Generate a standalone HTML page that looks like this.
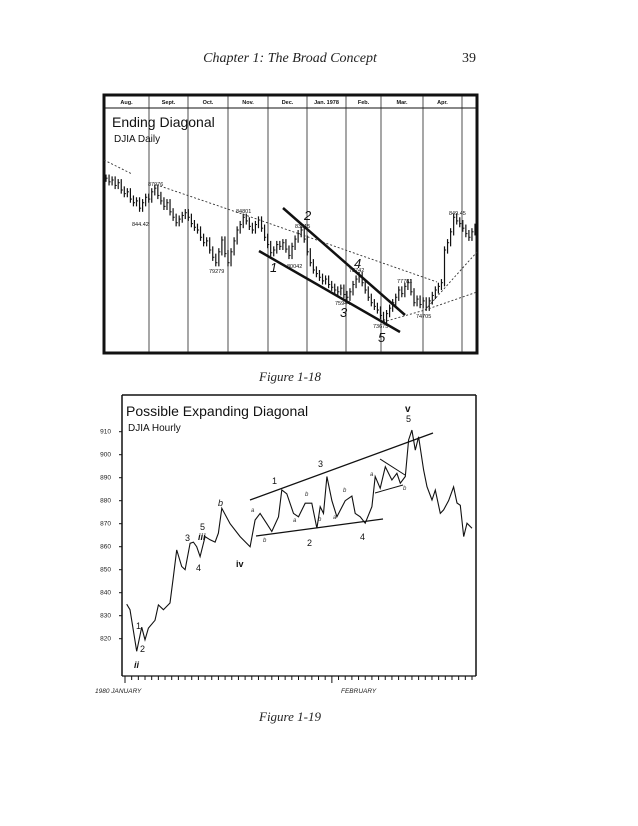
<!DOCTYPE html>
<html><head><meta charset="utf-8">
<style>
html,body{margin:0;padding:0;background:#fff;}
body{width:638px;height:826px;overflow:hidden;position:relative;font-family:"Liberation Serif",serif;}
svg{position:absolute;left:0;top:0;}
</style></head>
<body>
<svg width="638" height="826" viewBox="0 0 638 826">
<text x="290" y="62" font-family="Liberation Serif" font-style="italic" font-size="14" text-anchor="middle" fill="#222">Chapter 1: The Broad Concept</text>
<text x="476" y="62" font-family="Liberation Serif" font-size="14" text-anchor="end" fill="#222">39</text>
<text x="290" y="381" font-family="Liberation Serif" font-style="italic" font-size="13" text-anchor="middle" fill="#222">Figure 1-18</text>
<text x="290" y="721" font-family="Liberation Serif" font-style="italic" font-size="13" text-anchor="middle" fill="#222">Figure 1-19</text>

<g id="top">
<rect x="104" y="95" width="373" height="258" fill="none" stroke="#111" stroke-width="3"/>
<line x1="104" y1="108" x2="477" y2="108" stroke="#111" stroke-width="1"/>
<g id="months"></g>
<text x="112" y="127" font-family="Liberation Sans" font-size="14" fill="#111">Ending Diagonal</text>
<text x="114" y="142" font-family="Liberation Sans" font-size="10" fill="#111">DJIA Daily</text>
<g id="topbars"></g>
<g stroke="#333" stroke-width="0.9" stroke-dasharray="2,2" fill="none">
<polyline points="104,160 132,174"/>
<polyline points="160,186 248,216 437,282"/>
<polyline points="383,322 425,310 477,252"/>
<polyline points="425,310 477,292"/>
</g>
<line x1="283" y1="208" x2="405" y2="315" stroke="#111" stroke-width="2.5"/>
<line x1="259" y1="251" x2="400" y2="332" stroke="#111" stroke-width="2.5"/>
<g font-family="Liberation Sans" font-size="5.5" fill="#111">
<text x="148" y="186">87976</text>
<text x="132" y="226">844.42</text>
<text x="236" y="213">84801</text>
<text x="209" y="273">79279</text>
<text x="295" y="228">83515</text>
<text x="287" y="268">80042</text>
<text x="349" y="272">78742</text>
<text x="335" y="305">75944</text>
<text x="373" y="328">73675</text>
<text x="397" y="283">77781</text>
<text x="416" y="318">74705</text>
<text x="449" y="215">849.45</text>
</g>
<g font-family="Liberation Sans" font-style="italic" font-size="13" fill="#111">
<text x="270" y="272">1</text>
<text x="304" y="220">2</text>
<text x="340" y="317">3</text>
<text x="354" y="268">4</text>
<text x="378" y="342">5</text>
</g>
</g>

<g id="bottom">
<line x1="122" y1="395" x2="476" y2="395" stroke="#111" stroke-width="1.5"/>
<line x1="122" y1="395" x2="122" y2="676" stroke="#111" stroke-width="1.5"/>
<line x1="476" y1="395" x2="476" y2="676" stroke="#111" stroke-width="1.5"/>
<line x1="122" y1="676" x2="476" y2="676" stroke="#111" stroke-width="1.2"/>
<g id="xticks"></g><g id="yticks"></g>
<text x="126" y="416" font-family="Liberation Sans" font-size="14" fill="#111">Possible Expanding Diagonal</text>
<text x="128" y="431" font-family="Liberation Sans" font-size="10" fill="#111">DJIA Hourly</text>
<text x="95" y="693" font-family="Liberation Sans" font-style="italic" font-size="6.5" fill="#222">1980  JANUARY</text>
<text x="341" y="693" font-family="Liberation Sans" font-style="italic" font-size="6.5" fill="#222">FEBRUARY</text>
<line x1="250" y1="500" x2="433" y2="433" stroke="#111" stroke-width="1.3"/>
<line x1="256" y1="536" x2="383" y2="519" stroke="#111" stroke-width="1.3"/>
<line x1="380" y1="459" x2="405" y2="475" stroke="#111" stroke-width="1"/>
<line x1="375" y1="493" x2="403" y2="485" stroke="#111" stroke-width="1"/>
<path id="hourly" fill="none" stroke="#111" stroke-width="1.1"/>
<g font-family="Liberation Sans" font-size="9" fill="#111">
<text x="136" y="629">1</text>
<text x="140" y="652">2</text>
<text x="134" y="668" font-style="italic" font-weight="bold">ii</text>
<text x="185" y="541">3</text>
<text x="196" y="571">4</text>
<text x="198" y="540" font-style="italic" font-weight="bold">iii</text>
<text x="200" y="530">5</text>
<text x="218" y="506" font-style="italic">b</text>
<text x="236" y="567" font-weight="bold">iv</text>
<text x="272" y="484">1</text>
<text x="307" y="546">2</text>
<text x="318" y="467">3</text>
<text x="360" y="540">4</text>
<text x="405" y="412" font-size="10" font-weight="bold">v</text>
<text x="406" y="422">5</text>
</g>
<g font-family="Liberation Sans" font-style="italic" font-size="6" fill="#333">
<text x="251" y="512">a</text>
<text x="263" y="542">b</text>
<text x="293" y="522">a</text>
<text x="305" y="496">b</text>
<text x="318" y="521">b</text>
<text x="333" y="519">a</text>
<text x="343" y="492">b</text>
<text x="370" y="476">a</text>
<text x="403" y="490">b</text>
</g>
</g>
</svg>

<script>
// ---- Top chart data (DJIA daily, approx) ----
var topMonths = ["Aug.","Sept.","Oct.","Nov.","Dec.","Jan. 1978","Feb.","Mar.","Apr."];
var topMonthDividers = [149,188,228,268,307,346,381,423,462];
var topCloses = [893,889,891,885,888,880,876,878,870,866,868,860,866,872,870,878,882,874,868,862,866,856,850,844,848,852,855,850,843,839,836,828,822,824,814,806,800,812,825,810,800,812,824,836,842,850,846,840,836,842,847,838,828,820,811,814,820,818,822,815,808,818,826,832,836,826,812,800,792,788,784,780,782,776,773,770,768,772,765,762,768,776,782,786,778,770,762,756,752,748,742,737,744,750,756,762,770,766,774,778,768,756,760,754,758,751,758,764,770,774,778,814,822,834,850,846,843,838,832,828,834,839];
// ---- Bottom chart data (DJIA hourly) ----
var hourIdx = [0.5,1.5,3.5,5,6,7,9,10,11.5,13.5,14.5,15.5,17,18,19.5,20.5,21.5,22.5,24,25.5,27,28,29,31.5,34.5,37.5,39,40.5,42.5,44,46,47,48.5,50.5,52,54,56,57.5,58.5,59.5,60.5,62,63.5,66,68,69,70.5,72,74,75,76.5,78,80,81.5,82.5,84,85,86,87,88,89.5,90.5,92,93,94.5,95.5,97,98.5,99.5,100.5,101.5,102.5,104];
var hourVals = [835,832.6,814.5,825,819.5,824.6,828,834.7,832.6,835.5,847,858.6,851.4,850,861.5,862,860,855.7,864.4,863,862,865.9,876.7,870,864.4,860,871.6,874.5,870,866.6,873,884.7,883,874.5,873,878.9,878.9,868,877.4,874.5,890.5,880,873,880,882,874.5,873,870.2,877.4,890.5,885.4,894.8,889,891.9,887.6,890.5,906.4,910.7,902,907.8,893.4,886.1,880.3,884.6,874.5,876,880,886,879,878,864.4,870.2,868];
var yTicks = [820,830,840,850,860,870,880,890,900,910];

var NS="http://www.w3.org/2000/svg";
function mk(tag,attrs,parent){var e=document.createElementNS(NS,tag);for(var k in attrs)e.setAttribute(k,attrs[k]);parent.appendChild(e);return e;}
function tx(i){return 106+i*(475-106)/(topCloses.length-1);}
function ty(v){return 190+(880-v)*0.909;}
var gm=document.getElementById('months');
var mStarts=[104].concat(topMonthDividers);
for(var i=0;i<topMonths.length;i++){
  if(i<topMonthDividers.length){
    var ln=mk('line',{x1:topMonthDividers[i],y1:96,x2:topMonthDividers[i],y2:352,stroke:'#222','stroke-width':0.8},gm);
    
    
  }
  var end=i<topMonthDividers.length?topMonthDividers[i]:477;
  var t=mk('text',{x:(mStarts[i]+end)/2,y:104,'font-family':'Liberation Sans','font-size':5.5,'font-weight':'bold','text-anchor':'middle',fill:'#111'},gm);
  t.textContent=topMonths[i];
  
  
}
var gb=document.getElementById('topbars');
for(var i=0;i<topCloses.length;i++){
  var x=tx(i),v=topCloses[i];
  var prev=i>0?topCloses[i-1]:v;
  var hi=Math.max(v,prev)+4,lo=Math.min(v,prev)-4;
  var b=mk('line',{x1:x,y1:ty(hi),x2:x,y2:ty(lo),stroke:'#111','stroke-width':1.2},gb);
  
  
  var c=mk('line',{x1:x,y1:ty(v),x2:x+1.6,y2:ty(v),stroke:'#111','stroke-width':1},gb);
  
  
}
function bx(h){return 125+h*(472-125)/104;}
function by(v){return 431.7+(910-v)*2.3;}
var d='';
for(var i=0;i<hourIdx.length;i++){d+=(i?'L':'M')+bx(hourIdx[i]).toFixed(1)+','+by(hourVals[i]).toFixed(1);}
document.getElementById('hourly').setAttribute('d',d);
var gy=document.getElementById('yticks');
for(var i=0;i<yTicks.length;i++){
  var y=by(yTicks[i]);
  var l=mk('line',{x1:119,y1:y,x2:122,y2:y,stroke:'#111','stroke-width':1},gy);
  
  
  var t=mk('text',{x:111,y:y+2,'font-family':'Liberation Sans','font-size':6.5,'text-anchor':'end',fill:'#222'},gy);
  t.textContent=yTicks[i];
  
  
}
var gx=document.getElementById('xticks');
for(var h=0;h<=104;h+=2){
  var x=bx(h);
  var big=(h===0||h===62);
  var l=mk('line',{x1:x,y1:676,x2:x,y2:big?683:680,stroke:'#111','stroke-width':1},gx);
  
  
}
</script>
</body></html>
